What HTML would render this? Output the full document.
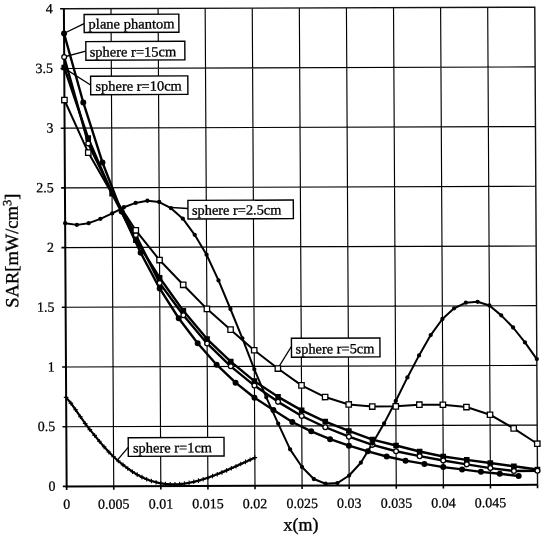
<!DOCTYPE html>
<html><head><meta charset="utf-8"><style>
html,body{margin:0;padding:0;background:#fff;}
body{width:550px;height:539px;overflow:hidden;}
svg{display:block;}
.tk{font-family:"Liberation Serif",serif;font-size:14px;fill:#000;}
.lb{font-family:"Liberation Serif",serif;font-size:14px;fill:#000;}
.ax{font-family:"Liberation Serif",serif;font-size:17px;fill:#000;}
</style></head><body>
<svg width="550" height="539" viewBox="0 0 550 539">
<rect width="550" height="539" fill="#fff"/>
<g transform="matrix(1,-0.003435,0.005765,1,66.653,486.406)">
<path d="M47.09,0V-477.62 M94.18,0V-477.62 M141.26,0V-477.62 M188.35,0V-477.62 M235.44,0V-477.62 M282.53,0V-477.62 M329.62,0V-477.62 M376.71,0V-477.62 M423.79,0V-477.62 M0,-59.7H470.88 M0,-119.4H470.88 M0,-179.11H470.88 M0,-238.81H470.88 M0,-298.51H470.88 M0,-358.21H470.88 M0,-417.91H470.88" stroke="#000" stroke-width="1.15" fill="none"/>
<path d="M0,0V3.5 M47.09,0V3.5 M94.18,0V3.5 M141.26,0V3.5 M188.35,0V3.5 M235.44,0V3.5 M282.53,0V3.5 M329.62,0V3.5 M376.71,0V3.5 M423.79,0V3.5 M470.88,0V3.5 M-3.8,0H0 M-3.8,-59.7H0 M-3.8,-119.4H0 M-3.8,-179.11H0 M-3.8,-238.81H0 M-3.8,-298.51H0 M-3.8,-358.21H0 M-3.8,-417.91H0 M-3.8,-477.62H0" stroke="#000" stroke-width="1.6" fill="none"/>
<path d="M0,-477.62H470.88V0" stroke="#111" stroke-width="1.4" fill="none"/>
<path d="M0,-477.62V0H470.88" stroke="#000" stroke-width="2" fill="none"/>
<path d="M-0.29,-452.91L20.11,-462.74" stroke="#000" stroke-width="1.3"/>
<path d="M-0.43,-429.41L21.66,-435.13" stroke="#000" stroke-width="1.3"/>
<path d="M-1.24,-419.01L26.26,-401.32" stroke="#000" stroke-width="1.3"/>
<path d="M106.35,-278.54L122.85,-277.48" stroke="#000" stroke-width="1.3"/>
<path d="M211.72,-117.08L225.55,-139.13" stroke="#000" stroke-width="1.3"/>
<path d="M51.7,-27.13L61.77,-38.89" stroke="#000" stroke-width="1.3"/>
<path d="M0,-386.39 L23.54,-333.73 L47.09,-292.18 L70.63,-255.88 L94.18,-226.03 L117.72,-201.2 L141.26,-177.08 L164.81,-156.18 L188.35,-135.52 L211.9,-117.14 L235.44,-100.18 L258.99,-88.48 L282.53,-80.96 L306.07,-78.81 L329.62,-78.93 L353.16,-80.48 L376.71,-80.36 L400.25,-77.97 L423.79,-70.21 L447.34,-56.48 L470.88,-41.07" stroke="#000" stroke-width="2.0" fill="none" stroke-linejoin="round"/>
<path d="M0,-429.38 L23.54,-342.93 L47.09,-293.73 L70.63,-251.11 L94.18,-202.99 L117.72,-170.75 L141.26,-142.45 L164.81,-119.52 L188.35,-100.18 L211.9,-83.82 L235.44,-69.61 L258.99,-58.27 L282.53,-48.72 L306.07,-40.48 L329.62,-34.03 L353.16,-29.02 L376.71,-24.6 L400.25,-20.66 L423.79,-16.84 L447.34,-13.85 L470.88,-14.09" stroke="#000" stroke-width="2.4" fill="none" stroke-linejoin="round"/>
<path d="M0,-418.99 L23.54,-348.18 L47.09,-292.54 L70.63,-246.09 L94.18,-208.36 L117.72,-175.17 L141.26,-146.87 L164.81,-124.18 L188.35,-104.6 L211.9,-88.84 L235.44,-75.22 L258.99,-63.88 L282.53,-54.45 L306.07,-45.73 L329.62,-39.76 L353.16,-33.67 L376.71,-28.66 L400.25,-25.19 L423.79,-21.97 L447.34,-18.63 L470.88,-15.28" stroke="#000" stroke-width="2.4" fill="none" stroke-linejoin="round"/>
<path d="M0,-452.9 L18.84,-383.88 L37.67,-323.82 L56.51,-274.63 L75.34,-233.43 L94.18,-197.61 L113.01,-167.76 L131.85,-142.69 L150.68,-121.2 L169.52,-103.17 L188.35,-88 L207.19,-75.58 L226.02,-63.64 L244.86,-54.21 L263.69,-46.33 L282.53,-39.76 L301.36,-34.03 L320.2,-28.78 L339.04,-24.6 L357.87,-21.25 L376.71,-18.03 L395.54,-15.64 L414.38,-13.13 L433.21,-11.1 L452.05,-8.84" stroke="#000" stroke-width="2.4" fill="none" stroke-linejoin="round"/>
<path d="M0,-263.17 L11.77,-261.49 L23.54,-263.17 L35.32,-267.46 L47.09,-272.84 L58.86,-278.93 L70.63,-283.23 L82.4,-285.38 L94.18,-284.06 L105.95,-277.85 L117.72,-267.35 L129.49,-251.11 L141.26,-231.17 L153.04,-205.49 L164.81,-176.84 L176.58,-147.46 L188.35,-116.42 L200.13,-88.36 L211.9,-62.09 L223.67,-36.3 L235.44,-18.63 L247.21,-6.57 L258.99,-1.79 L270.76,-2.39 L282.53,-9.91 L294.3,-22.69 L306.07,-41.79 L317.85,-61.97 L329.62,-84.3 L341.39,-107.82 L353.16,-129.79 L364.93,-150.09 L376.71,-166.09 L388.48,-176.72 L400.25,-182.33 L412.02,-183.17 L423.79,-179.46 L435.57,-169.55 L447.34,-157.37 L459.11,-142.45 L470.88,-125.73" stroke="#000" stroke-width="2.0" fill="none" stroke-linejoin="round"/>
<path d="M0,-89.02 L4.71,-83.24 L9.42,-76.61 L14.13,-69.64 L18.84,-62.85 L23.54,-56.69 L28.25,-50.93 L32.96,-45.11 L37.67,-39.44 L42.38,-34.17 L47.09,-29.47 L51.8,-25.22 L56.51,-21.33 L61.21,-17.73 L65.92,-14.46 L70.63,-11.55 L75.34,-9.01 L80.05,-6.88 L84.76,-5.15 L89.47,-3.79 L94.18,-2.78 L98.89,-2.12 L103.59,-1.77 L108.3,-1.73 L113.01,-1.96 L117.72,-2.45 L122.43,-3.19 L127.14,-4.15 L131.85,-5.31 L136.56,-6.66 L141.26,-8.17 L145.97,-9.83 L150.68,-11.61 L155.39,-13.5 L160.1,-15.48 L164.81,-17.52 L169.52,-19.62 L174.23,-21.75 L178.94,-23.88 L183.64,-26.01 L188.35,-28.12" stroke="#000" stroke-width="2.2" fill="none" stroke-linejoin="round"/>
<path d="M-2.3,-89.02h4.6M0,-91.32v4.6M2.41,-83.24h4.6M4.71,-85.54v4.6M7.12,-76.61h4.6M9.42,-78.91v4.6M11.83,-69.64h4.6M14.13,-71.94v4.6M16.54,-62.85h4.6M18.84,-65.15v4.6M21.24,-56.69h4.6M23.54,-58.99v4.6M25.95,-50.93h4.6M28.25,-53.23v4.6M30.66,-45.11h4.6M32.96,-47.41v4.6M35.37,-39.44h4.6M37.67,-41.74v4.6M40.08,-34.17h4.6M42.38,-36.47v4.6M44.79,-29.47h4.6M47.09,-31.77v4.6M49.5,-25.22h4.6M51.8,-27.52v4.6M54.21,-21.33h4.6M56.51,-23.63v4.6M58.91,-17.73h4.6M61.21,-20.03v4.6M63.62,-14.46h4.6M65.92,-16.76v4.6M68.33,-11.55h4.6M70.63,-13.85v4.6M73.04,-9.01h4.6M75.34,-11.31v4.6M77.75,-6.88h4.6M80.05,-9.18v4.6M82.46,-5.15h4.6M84.76,-7.45v4.6M87.17,-3.79h4.6M89.47,-6.09v4.6M91.88,-2.78h4.6M94.18,-5.08v4.6M96.59,-2.12h4.6M98.89,-4.42v4.6M101.29,-1.77h4.6M103.59,-4.07v4.6M106,-1.73h4.6M108.3,-4.03v4.6M110.71,-1.96h4.6M113.01,-4.26v4.6M115.42,-2.45h4.6M117.72,-4.75v4.6M120.13,-3.19h4.6M122.43,-5.49v4.6M124.84,-4.15h4.6M127.14,-6.45v4.6M129.55,-5.31h4.6M131.85,-7.61v4.6M134.26,-6.66h4.6M136.56,-8.96v4.6M138.96,-8.17h4.6M141.26,-10.47v4.6M143.67,-9.83h4.6M145.97,-12.13v4.6M148.38,-11.61h4.6M150.68,-13.91v4.6M153.09,-13.5h4.6M155.39,-15.8v4.6M157.8,-15.48h4.6M160.1,-17.78v4.6M162.51,-17.52h4.6M164.81,-19.82v4.6M167.22,-19.62h4.6M169.52,-21.92v4.6M171.93,-21.75h4.6M174.23,-24.05v4.6M176.64,-23.88h4.6M178.94,-26.18v4.6M181.34,-26.01h4.6M183.64,-28.31v4.6M186.05,-28.12h4.6M188.35,-30.42v4.6" stroke="#000" stroke-width="1.05" fill="none"/>
<circle cx="0" cy="-452.9" r="3" fill="#000"/>
<circle cx="18.84" cy="-383.88" r="3" fill="#000"/>
<circle cx="37.67" cy="-323.82" r="3" fill="#000"/>
<circle cx="56.51" cy="-274.63" r="3" fill="#000"/>
<circle cx="75.34" cy="-233.43" r="3" fill="#000"/>
<circle cx="94.18" cy="-197.61" r="3" fill="#000"/>
<circle cx="113.01" cy="-167.76" r="3" fill="#000"/>
<circle cx="131.85" cy="-142.69" r="3" fill="#000"/>
<circle cx="150.68" cy="-121.2" r="3" fill="#000"/>
<circle cx="169.52" cy="-103.17" r="3" fill="#000"/>
<circle cx="188.35" cy="-88" r="3" fill="#000"/>
<circle cx="207.19" cy="-75.58" r="3" fill="#000"/>
<circle cx="226.02" cy="-63.64" r="3" fill="#000"/>
<circle cx="244.86" cy="-54.21" r="3" fill="#000"/>
<circle cx="263.69" cy="-46.33" r="3" fill="#000"/>
<circle cx="282.53" cy="-39.76" r="3" fill="#000"/>
<circle cx="301.36" cy="-34.03" r="3" fill="#000"/>
<circle cx="320.2" cy="-28.78" r="3" fill="#000"/>
<circle cx="339.04" cy="-24.6" r="3" fill="#000"/>
<circle cx="357.87" cy="-21.25" r="3" fill="#000"/>
<circle cx="376.71" cy="-18.03" r="3" fill="#000"/>
<circle cx="395.54" cy="-15.64" r="3" fill="#000"/>
<circle cx="414.38" cy="-13.13" r="3" fill="#000"/>
<circle cx="433.21" cy="-11.1" r="3" fill="#000"/>
<circle cx="452.05" cy="-8.84" r="3" fill="#000"/>
<rect x="-2.8" y="-421.79" width="5.6" height="5.6" fill="#000"/>
<rect x="20.74" y="-350.98" width="5.6" height="5.6" fill="#000"/>
<rect x="44.29" y="-295.34" width="5.6" height="5.6" fill="#000"/>
<rect x="67.83" y="-248.89" width="5.6" height="5.6" fill="#000"/>
<rect x="91.38" y="-211.16" width="5.6" height="5.6" fill="#000"/>
<rect x="114.92" y="-177.97" width="5.6" height="5.6" fill="#000"/>
<rect x="138.46" y="-149.67" width="5.6" height="5.6" fill="#000"/>
<rect x="162.01" y="-126.98" width="5.6" height="5.6" fill="#000"/>
<rect x="185.55" y="-107.4" width="5.6" height="5.6" fill="#000"/>
<rect x="209.1" y="-91.64" width="5.6" height="5.6" fill="#000"/>
<rect x="232.64" y="-78.02" width="5.6" height="5.6" fill="#000"/>
<rect x="256.19" y="-66.68" width="5.6" height="5.6" fill="#000"/>
<rect x="279.73" y="-57.25" width="5.6" height="5.6" fill="#000"/>
<rect x="303.27" y="-48.53" width="5.6" height="5.6" fill="#000"/>
<rect x="326.82" y="-42.56" width="5.6" height="5.6" fill="#000"/>
<rect x="350.36" y="-36.47" width="5.6" height="5.6" fill="#000"/>
<rect x="373.91" y="-31.46" width="5.6" height="5.6" fill="#000"/>
<rect x="397.45" y="-27.99" width="5.6" height="5.6" fill="#000"/>
<rect x="420.99" y="-24.77" width="5.6" height="5.6" fill="#000"/>
<rect x="444.54" y="-21.43" width="5.6" height="5.6" fill="#000"/>
<rect x="468.08" y="-18.08" width="5.6" height="5.6" fill="#000"/>
<circle cx="0" cy="-429.38" r="2.4" fill="#fff" stroke="#000" stroke-width="1.3"/>
<circle cx="23.54" cy="-342.93" r="2.4" fill="#fff" stroke="#000" stroke-width="1.3"/>
<circle cx="70.63" cy="-251.11" r="2.4" fill="#fff" stroke="#000" stroke-width="1.3"/>
<circle cx="94.18" cy="-202.99" r="2.4" fill="#fff" stroke="#000" stroke-width="1.3"/>
<circle cx="117.72" cy="-170.75" r="2.4" fill="#fff" stroke="#000" stroke-width="1.3"/>
<circle cx="141.26" cy="-142.45" r="2.4" fill="#fff" stroke="#000" stroke-width="1.3"/>
<circle cx="164.81" cy="-119.52" r="2.4" fill="#fff" stroke="#000" stroke-width="1.3"/>
<circle cx="188.35" cy="-100.18" r="2.4" fill="#fff" stroke="#000" stroke-width="1.3"/>
<circle cx="211.9" cy="-83.82" r="2.4" fill="#fff" stroke="#000" stroke-width="1.3"/>
<circle cx="235.44" cy="-69.61" r="2.4" fill="#fff" stroke="#000" stroke-width="1.3"/>
<circle cx="258.99" cy="-58.27" r="2.4" fill="#fff" stroke="#000" stroke-width="1.3"/>
<circle cx="282.53" cy="-48.72" r="2.4" fill="#fff" stroke="#000" stroke-width="1.3"/>
<circle cx="306.07" cy="-40.48" r="2.4" fill="#fff" stroke="#000" stroke-width="1.3"/>
<circle cx="329.62" cy="-34.03" r="2.4" fill="#fff" stroke="#000" stroke-width="1.3"/>
<circle cx="353.16" cy="-29.02" r="2.4" fill="#fff" stroke="#000" stroke-width="1.3"/>
<circle cx="376.71" cy="-24.6" r="2.4" fill="#fff" stroke="#000" stroke-width="1.3"/>
<circle cx="400.25" cy="-20.66" r="2.4" fill="#fff" stroke="#000" stroke-width="1.3"/>
<circle cx="423.79" cy="-16.84" r="2.4" fill="#fff" stroke="#000" stroke-width="1.3"/>
<circle cx="447.34" cy="-13.85" r="2.4" fill="#fff" stroke="#000" stroke-width="1.3"/>
<circle cx="470.88" cy="-14.09" r="2.4" fill="#fff" stroke="#000" stroke-width="1.3"/>
<rect x="-2.7" y="-389.09" width="5.4" height="5.4" fill="#fff" stroke="#000" stroke-width="1.3"/>
<rect x="20.84" y="-336.43" width="5.4" height="5.4" fill="#fff" stroke="#000" stroke-width="1.3"/>
<rect x="67.93" y="-258.58" width="5.4" height="5.4" fill="#fff" stroke="#000" stroke-width="1.3"/>
<rect x="91.48" y="-228.73" width="5.4" height="5.4" fill="#fff" stroke="#000" stroke-width="1.3"/>
<rect x="115.02" y="-203.9" width="5.4" height="5.4" fill="#fff" stroke="#000" stroke-width="1.3"/>
<rect x="138.56" y="-179.78" width="5.4" height="5.4" fill="#fff" stroke="#000" stroke-width="1.3"/>
<rect x="162.11" y="-158.88" width="5.4" height="5.4" fill="#fff" stroke="#000" stroke-width="1.3"/>
<rect x="185.65" y="-138.22" width="5.4" height="5.4" fill="#fff" stroke="#000" stroke-width="1.3"/>
<rect x="209.2" y="-119.84" width="5.4" height="5.4" fill="#fff" stroke="#000" stroke-width="1.3"/>
<rect x="232.74" y="-102.88" width="5.4" height="5.4" fill="#fff" stroke="#000" stroke-width="1.3"/>
<rect x="256.29" y="-91.18" width="5.4" height="5.4" fill="#fff" stroke="#000" stroke-width="1.3"/>
<rect x="279.83" y="-83.66" width="5.4" height="5.4" fill="#fff" stroke="#000" stroke-width="1.3"/>
<rect x="303.37" y="-81.51" width="5.4" height="5.4" fill="#fff" stroke="#000" stroke-width="1.3"/>
<rect x="326.92" y="-81.63" width="5.4" height="5.4" fill="#fff" stroke="#000" stroke-width="1.3"/>
<rect x="350.46" y="-83.18" width="5.4" height="5.4" fill="#fff" stroke="#000" stroke-width="1.3"/>
<rect x="374.01" y="-83.06" width="5.4" height="5.4" fill="#fff" stroke="#000" stroke-width="1.3"/>
<rect x="397.55" y="-80.67" width="5.4" height="5.4" fill="#fff" stroke="#000" stroke-width="1.3"/>
<rect x="421.09" y="-72.91" width="5.4" height="5.4" fill="#fff" stroke="#000" stroke-width="1.3"/>
<rect x="444.64" y="-59.18" width="5.4" height="5.4" fill="#fff" stroke="#000" stroke-width="1.3"/>
<rect x="468.18" y="-43.77" width="5.4" height="5.4" fill="#fff" stroke="#000" stroke-width="1.3"/>
<circle cx="0" cy="-263.17" r="2.15" fill="#000"/>
<circle cx="11.77" cy="-261.49" r="2.15" fill="#000"/>
<circle cx="23.54" cy="-263.17" r="2.15" fill="#000"/>
<circle cx="35.32" cy="-267.46" r="2.15" fill="#000"/>
<circle cx="47.09" cy="-272.84" r="2.15" fill="#000"/>
<circle cx="58.86" cy="-278.93" r="2.15" fill="#000"/>
<circle cx="70.63" cy="-283.23" r="2.15" fill="#000"/>
<circle cx="82.4" cy="-285.38" r="2.15" fill="#000"/>
<circle cx="94.18" cy="-284.06" r="2.15" fill="#000"/>
<circle cx="105.95" cy="-277.85" r="2.15" fill="#000"/>
<circle cx="117.72" cy="-267.35" r="2.15" fill="#000"/>
<circle cx="129.49" cy="-251.11" r="2.15" fill="#000"/>
<circle cx="141.26" cy="-231.17" r="2.15" fill="#000"/>
<circle cx="153.04" cy="-205.49" r="2.15" fill="#000"/>
<circle cx="164.81" cy="-176.84" r="2.15" fill="#000"/>
<circle cx="176.58" cy="-147.46" r="2.15" fill="#000"/>
<circle cx="188.35" cy="-116.42" r="2.15" fill="#000"/>
<circle cx="200.13" cy="-88.36" r="2.15" fill="#000"/>
<circle cx="211.9" cy="-62.09" r="2.15" fill="#000"/>
<circle cx="223.67" cy="-36.3" r="2.15" fill="#000"/>
<circle cx="235.44" cy="-18.63" r="2.15" fill="#000"/>
<circle cx="247.21" cy="-6.57" r="2.15" fill="#000"/>
<circle cx="258.99" cy="-1.79" r="2.15" fill="#000"/>
<circle cx="270.76" cy="-2.39" r="2.15" fill="#000"/>
<circle cx="282.53" cy="-9.91" r="2.15" fill="#000"/>
<circle cx="294.3" cy="-22.69" r="2.15" fill="#000"/>
<circle cx="306.07" cy="-41.79" r="2.15" fill="#000"/>
<circle cx="317.85" cy="-61.97" r="2.15" fill="#000"/>
<circle cx="329.62" cy="-84.3" r="2.15" fill="#000"/>
<circle cx="341.39" cy="-107.82" r="2.15" fill="#000"/>
<circle cx="353.16" cy="-129.79" r="2.15" fill="#000"/>
<circle cx="364.93" cy="-150.09" r="2.15" fill="#000"/>
<circle cx="376.71" cy="-166.09" r="2.15" fill="#000"/>
<circle cx="388.48" cy="-176.72" r="2.15" fill="#000"/>
<circle cx="400.25" cy="-182.33" r="2.15" fill="#000"/>
<circle cx="412.02" cy="-183.17" r="2.15" fill="#000"/>
<circle cx="423.79" cy="-179.46" r="2.15" fill="#000"/>
<circle cx="435.57" cy="-169.55" r="2.15" fill="#000"/>
<circle cx="447.34" cy="-157.37" r="2.15" fill="#000"/>
<circle cx="459.11" cy="-142.45" r="2.15" fill="#000"/>
<circle cx="470.88" cy="-125.73" r="2.15" fill="#000"/>
<rect x="20.17" y="-471.84" width="94.7" height="18.03" fill="#fff" stroke="#000" stroke-width="1.4"/>
<text x="24.59" y="-457.72" class="lb" stroke="#000" stroke-width="0.3" textLength="86" lengthAdjust="spacingAndGlyphs">plane phantom</text>
<rect x="21.71" y="-444.73" width="98.99" height="18.64" fill="#fff" stroke="#000" stroke-width="1.4"/>
<text x="25.52" y="-429.72" class="lb" stroke="#000" stroke-width="0.3" textLength="86.6" lengthAdjust="spacingAndGlyphs">sphere r=15cm</text>
<rect x="26.31" y="-410.12" width="97.19" height="18.53" fill="#fff" stroke="#000" stroke-width="1.4"/>
<text x="31.03" y="-395.5" class="lb" stroke="#000" stroke-width="0.3" textLength="86.4" lengthAdjust="spacingAndGlyphs">sphere r=10cm</text>
<rect x="122.89" y="-285.58" width="105.39" height="18.56" fill="#fff" stroke="#000" stroke-width="1.4"/>
<text x="126.91" y="-271.17" class="lb" stroke="#000" stroke-width="0.3" textLength="89.4" lengthAdjust="spacingAndGlyphs">sphere r=2.5cm</text>
<rect x="225.6" y="-147.33" width="88.49" height="18.9" fill="#fff" stroke="#000" stroke-width="1.4"/>
<text x="229.71" y="-132.12" class="lb" stroke="#000" stroke-width="0.3" textLength="78.8" lengthAdjust="spacingAndGlyphs">sphere r=5cm</text>
<rect x="61.83" y="-48.49" width="95.79" height="18.63" fill="#fff" stroke="#000" stroke-width="1.4"/>
<text x="66.44" y="-33.68" class="lb" stroke="#000" stroke-width="0.3" textLength="79.2" lengthAdjust="spacingAndGlyphs">sphere r=1cm</text>
<text x="-11.2" y="4.3" class="tk" text-anchor="end" stroke="#000" stroke-width="0.25">0</text>
<text x="-11.2" y="-55.4" class="tk" text-anchor="end" stroke="#000" stroke-width="0.25">0.5</text>
<text x="-11.2" y="-115.1" class="tk" text-anchor="end" stroke="#000" stroke-width="0.25">1</text>
<text x="-11.2" y="-174.81" class="tk" text-anchor="end" stroke="#000" stroke-width="0.25">1.5</text>
<text x="-11.2" y="-234.51" class="tk" text-anchor="end" stroke="#000" stroke-width="0.25">2</text>
<text x="-11.2" y="-294.21" class="tk" text-anchor="end" stroke="#000" stroke-width="0.25">2.5</text>
<text x="-11.2" y="-353.91" class="tk" text-anchor="end" stroke="#000" stroke-width="0.25">3</text>
<text x="-11.2" y="-413.61" class="tk" text-anchor="end" stroke="#000" stroke-width="0.25">3.5</text>
<text x="-11.2" y="-473.32" class="tk" text-anchor="end" stroke="#000" stroke-width="0.25">4</text>
<text x="0" y="22.4" class="tk" text-anchor="middle" stroke="#000" stroke-width="0.25">0</text>
<text x="47.09" y="22.4" class="tk" text-anchor="middle" stroke="#000" stroke-width="0.25">0.005</text>
<text x="94.18" y="22.4" class="tk" text-anchor="middle" stroke="#000" stroke-width="0.25">0.01</text>
<text x="141.26" y="22.4" class="tk" text-anchor="middle" stroke="#000" stroke-width="0.25">0.015</text>
<text x="188.35" y="22.4" class="tk" text-anchor="middle" stroke="#000" stroke-width="0.25">0.02</text>
<text x="235.44" y="22.4" class="tk" text-anchor="middle" stroke="#000" stroke-width="0.25">0.025</text>
<text x="282.53" y="22.4" class="tk" text-anchor="middle" stroke="#000" stroke-width="0.25">0.03</text>
<text x="329.62" y="22.4" class="tk" text-anchor="middle" stroke="#000" stroke-width="0.25">0.035</text>
<text x="376.71" y="22.4" class="tk" text-anchor="middle" stroke="#000" stroke-width="0.25">0.04</text>
<text x="423.79" y="22.4" class="tk" text-anchor="middle" stroke="#000" stroke-width="0.25">0.045</text>
<text x="234.2" y="44.8" class="ax" text-anchor="middle" style="font-size:18px" stroke="#000" stroke-width="0.35">x(m)</text>
<text transform="translate(-47.3,-178.8) rotate(-90)" class="ax" style="font-size:18.5px" stroke="#000" stroke-width="0.35">SAR[mW/cm<tspan style="font-size:12.5px" dy="-6.6">3</tspan><tspan dy="6.6">]</tspan></text>
</g>
</svg>
</body></html>
